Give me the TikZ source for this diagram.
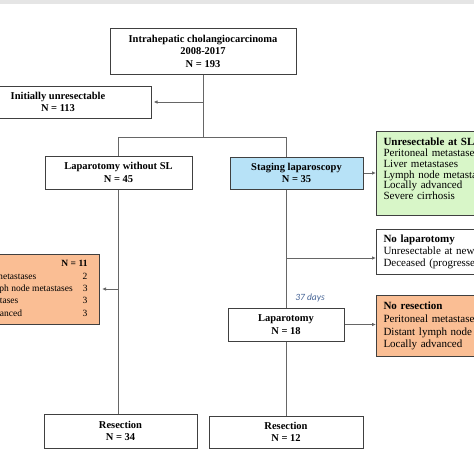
\documentclass[tikz,border=0pt]{standalone}
\usepackage{fontspec}
\setmainfont{Liberation Serif}
\setsansfont{Carlito}
\usetikzlibrary{arrows.meta}
\definecolor{slblue}{RGB}{183,226,247}
\definecolor{slgreen}{RGB}{216,246,200}
\definecolor{sloran}{RGB}{250,190,148}
\definecolor{daysblue}{RGB}{70,100,150}

\begin{document}
\begin{tikzpicture}[x=1pt,y=-1pt,
  box/.style={draw=black!75,line width=1pt,fill=white,align=center,inner sep=0pt,
    font=\fontsize{10.5}{12.5}\selectfont\bfseries},
  side/.style={draw=black!75,line width=1pt,anchor=north west,align=left,
    text width=150pt,inner xsep=7pt},
  link/.style={draw=black!60,line width=0.9pt},
  arr/.style={link,-{Latex[length=4pt,width=3.5pt]}}]
\useasboundingbox (0,0) rectangle (474,474);
\clip (0,0) rectangle (474,474);
\fill[black!10] (0,0) rectangle (474,4);
\def\ys{137}
% main column
\node[box,minimum width=186pt,minimum height=46pt] (ihc) at (203,51) {Intrahepatic cholangiocarcinoma\\2008-2017\\N = 193};
\node[box,minimum width=186pt,minimum height=32pt] (init) at (58,102) {Initially unresectable\\N = 113};
\node[box,minimum width=147pt,minimum height=33pt] (lapw) at (118.5,172.5) {Laparotomy without SL\\N = 45};
\node[box,fill=slblue,minimum width=133pt,minimum height=32pt] (stag) at (296.5,173) {Staging laparoscopy\\N = 35};
\node[box,minimum width=116pt,minimum height=33pt] (lapr) at (286,324.5) {Laparotomy\\N = 18};
\node[box,minimum width=153pt,minimum height=34pt] (res1) at (120.5,431) {Resection\\N = 34};
\node[box,minimum width=154pt,minimum height=32pt] (res2) at (286,432) {Resection\\N = 12};
% side boxes
\node[side,fill=slgreen,inner ysep=6.5pt,font=\fontsize{11}{10.8}\selectfont] (unsl) at (376,131)
  {\textbf{Unresectable at SL}\\Peritoneal metastases\\Liver metastases\\Lymph node metastases\\Locally advanced\\Severe cirrhosis\rule[-9.5pt]{0pt}{1pt}};
\node[side,fill=white,inner ysep=5.5pt,font=\fontsize{11}{12}\selectfont] (nolap) at (376,229)
  {\textbf{No laparotomy}\\Unresectable at new imaging\\Deceased (progressed disease)};
\node[side,fill=sloran,inner ysep=6.5pt,font=\fontsize{11}{12.7}\selectfont] (nores) at (376,295)
  {\textbf{No resection}\\Peritoneal metastases\\Distant lymph node metastases\\Locally advanced};
\node[draw=black!75,line width=1pt,fill=sloran,anchor=east,minimum height=70pt,inner xsep=12pt,inner ysep=0pt,
  font=\fontsize{9.5}{12.4}\selectfont] (exL) at (100,289)
  {\begin{tabular}{@{}l@{\hspace{10pt}}r@{}}
   \multicolumn{2}{r@{}}{\textbf{N = 11}}\\
   Peritoneal metastases & 2\\
   Distant lymph node metastases & 3\\
   Liver metastases & 3\\
   Locally advanced & 3
   \end{tabular}};
\node[font=\sffamily\itshape\fontsize{9.5}{11}\selectfont,text=daysblue] (days) at (310,298) {37 days};
% connectors
\coordinate (split) at (203,\ys);
\coordinate (nl) at (286,258);
\draw[link] (ihc.south) -- (split);
\draw[arr,shorten >=2pt] (ihc.south |- init.east) -- (init.east);
\draw[link] (lapw.north) -- (lapw.north |- split) -- (lapr.north |- split) -- (lapr.north |- stag.north);
\draw[link] (lapr.north |- stag.south) -- (lapr.north);
\draw[arr] (stag.east) -- (stag.east -| unsl.west);
\draw[arr] (nl) -- (nl -| nolap.west);
\draw[arr] (lapr.east) -- (lapr.east -| nores.west);
\draw[link] (lapr.south) -- (res2.north);
\draw[link] (lapw.south) -- (lapw.south |- res1.north);
\draw[arr,shorten >=2pt] (lapw.south |- exL.east) -- (exL.east);
\end{tikzpicture}
\end{document}
